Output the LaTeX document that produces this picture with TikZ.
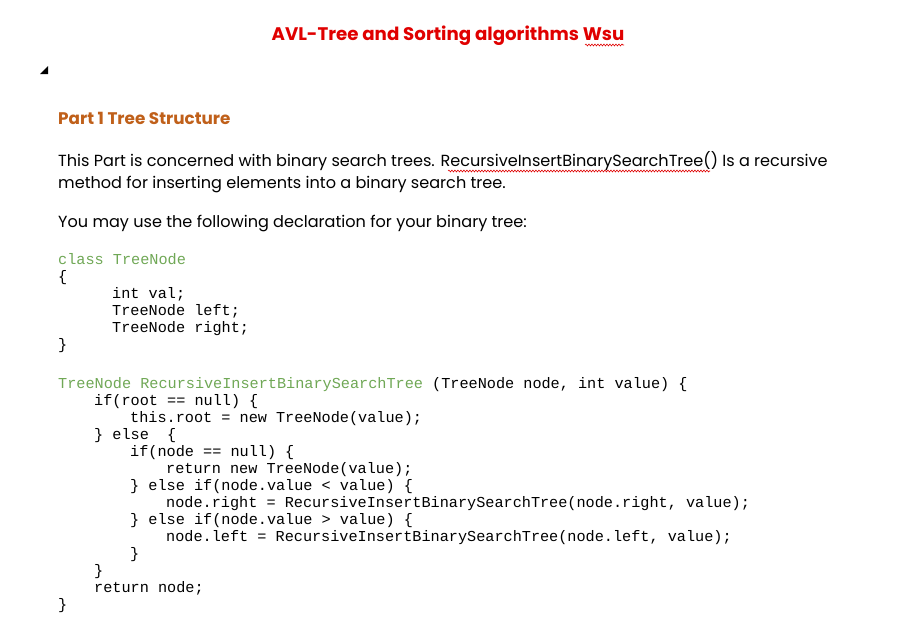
\documentclass[tikz,border=0pt]{standalone}
\usepackage{fontspec}
\setmainfont{Poppins}
\setmonofont{Liberation Mono}
\usetikzlibrary{decorations.pathmorphing}
\definecolor{tred}{HTML}{E00000}
\definecolor{torange}{HTML}{C0601A}
\definecolor{cgreen}{HTML}{70A856}
\begin{document}
\begin{tikzpicture}[x=1pt,y=-1pt,
  body/.style={anchor=base west,inner sep=0,font=\fontsize{16.1}{18}\selectfont},
  code/.style={anchor=base west,inner sep=0,font=\ttfamily\fontsize{15.2}{17}\selectfont},
  wavy/.style={tred,line width=0.6pt,decorate,decoration={snake,amplitude=0.9pt,segment length=3pt}}]
\useasboundingbox[fill=white] (0,0) rectangle (912,627);
\node[anchor=base,inner sep=0,text=tred,font=\bfseries\fontsize{18.2}{20}\selectfont] (title) at (448,40) {AVL-Tree and Sorting algorithms Wsu};
\draw[wavy] (585,45) -- (624,45);
\fill (48,66) -- (48,74) -- (40,74) -- cycle;
\node[body,text=torange,font=\bfseries\fontsize{16.8}{18}\selectfont] (h) at (58,124) {Part 1 Tree Structure};
\node[body] (p1) at (58,166) {This Part is concerned with binary search trees. RecursiveInsertBinarySearchTree() Is a recursive};
\draw[wavy] (448,171) -- (710,171);
\node[body] (p2) at (58,188) {method for inserting elements into a binary search tree.};
\node[body] (p3) at (58,227) {You may use the following declaration for your binary tree:};
\newcommand{\cl}[3]{\node[code] at ({58+#1*9.0},{#2+5}) {#3};}
\cl{0}{259}{\textcolor{cgreen}{class TreeNode}}
\cl{0}{276}{\{}
\cl{6}{293}{int val;}
\cl{6}{310}{TreeNode left;}
\cl{6}{327}{TreeNode right;}
\cl{0}{344}{\}}
\cl{0}{383}{\textcolor{cgreen}{TreeNode RecursiveInsertBinarySearchTree} (TreeNode node, int value) \{}
\cl{4}{400}{if(root == null) \{}
\cl{8}{417}{this.root = new TreeNode(value);}
\cl{4}{434}{\} else~~\{}
\cl{8}{451}{if(node == null) \{}
\cl{12}{468}{return new TreeNode(value);}
\cl{8}{485}{\} else if(node.value < value) \{}
\cl{12}{502}{node.right = RecursiveInsertBinarySearchTree(node.right, value);}
\cl{8}{519}{\} else if(node.value > value) \{}
\cl{12}{536}{node.left = RecursiveInsertBinarySearchTree(node.left, value);}
\cl{8}{553}{\}}
\cl{4}{570}{\}}
\cl{4}{587}{return node;}
\cl{0}{604}{\}}
\end{tikzpicture}
\end{document}
